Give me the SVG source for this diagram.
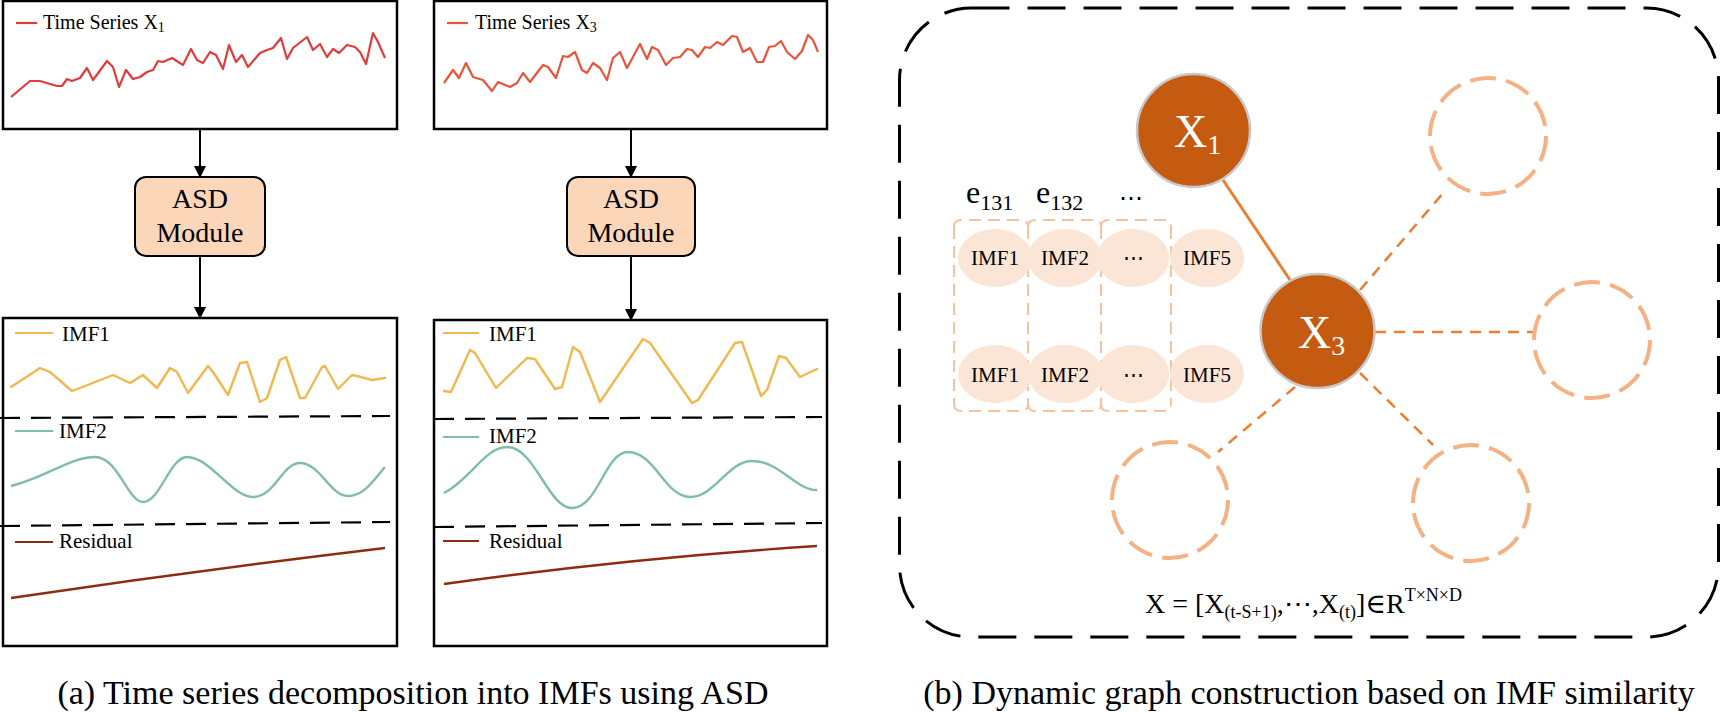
<svg xmlns="http://www.w3.org/2000/svg" width="1721" height="713" viewBox="0 0 1721 713">
<defs>
<marker id="arr" markerUnits="userSpaceOnUse" markerWidth="12" markerHeight="12" refX="11" refY="6" orient="auto">
<path d="M0,0 L12,6 L0,12 z" fill="#000"/>
</marker>
<style>
text{font-family:"Liberation Serif","DejaVu Serif",serif;fill:#000}
.box{fill:#fff;stroke:#000;stroke-width:2.5}
.asd{fill:#fbd6b8;stroke:#000;stroke-width:2}
.sep{stroke:#000;stroke-width:2.2;stroke-dasharray:20 11;fill:none}
.red1{fill:none;stroke:#e03c3c;stroke-width:2.2;stroke-linejoin:round}
.red3{fill:none;stroke:#e8553a;stroke-width:2.2;stroke-linejoin:round}
.imf1{fill:none;stroke:#f1b84f;stroke-width:2.4;stroke-linejoin:round;stroke-linecap:round}
.imf2{fill:none;stroke:#7dbf9e;stroke-width:2.4}
.res{fill:none;stroke:#8c2d12;stroke-width:2.4}
.leg{font-size:21px}
.arrow{stroke:#000;stroke-width:2;fill:none}
.node{fill:#c55a11;stroke:#c8c8c8;stroke-width:2.5}
.ghost{fill:none;stroke:#f4b183;stroke-width:4;stroke-dasharray:26 10.4}
.edge{stroke:#ed7d31;stroke-width:2.5;stroke-dasharray:11 8;fill:none}
.imfe{fill:#fbe5d6}
.grp{fill:none;stroke:#f7c39e;stroke-width:2;stroke-dasharray:12 7}
.nlab{fill:#fff;font-size:46px}
</style>
</defs>
<rect width="1721" height="713" fill="#fff"/>

<g id="series-x1">
<rect class="box" x="3" y="1" width="394" height="128"/>
<line x1="16" y1="23" x2="37" y2="23" stroke="#e03c3c" stroke-width="2.2"/>
<text x="43" y="29" font-size="20">Time Series X<tspan font-size="14" dy="3">1</tspan></text>
<polyline class="red1" points="11,97 30,81 40,81 57,86 62,86 67,79 72,81 80,78 87,68 93,80 107,61 113,67 119,87 126,70 133,79 140,77 147,72 153,70 158,61 163,62 172,58 183,65 191,49 197,60 203,63 210,52 216,55 223,69 229,45 236,62 242,55 248,67 260,53 267,50 273,48 281,38 287,59 293,48 307,37 313,50 320,44 327,57 333,49 339,53 347,45 355,47 360,52 366,64 373,33 378,42 385,58"/>
</g>

<g id="series-x3">
<rect class="box" x="434" y="1" width="393" height="128"/>
<line x1="447" y1="23" x2="468" y2="23" stroke="#e8553a" stroke-width="2.2"/>
<text x="475" y="29" font-size="20">Time Series X<tspan font-size="14" dy="3">3</tspan></text>
<polyline class="red3" points="444,83 453,70 459,78 466,63 473,77 483,80 492,91 498,82 510,87 517,83 523,73 530,82 543,65 548,67 556,78 563,56 568,57 575,52 582,70 587,73 593,63 600,68 607,80 613,58 620,52 627,68 640,44 647,59 652,47 658,50 666,65 673,58 680,57 687,49 692,50 698,57 705,47 710,48 717,42 723,45 732,36 737,37 743,52 750,48 757,62 763,62 769,47 775,46 781,41 787,52 795,59 802,51 808,35 813,40 818,52"/>
</g>

<g id="asd-1">
<rect class="asd" x="135" y="177" width="130" height="79" rx="11"/>
<text x="200" y="208" font-size="28" text-anchor="middle">ASD</text>
<text x="200" y="242" font-size="28" text-anchor="middle">Module</text>
</g>

<g id="asd-3">
<rect class="asd" x="567" y="177" width="128" height="79" rx="11"/>
<text x="631" y="208" font-size="28" text-anchor="middle">ASD</text>
<text x="631" y="242" font-size="28" text-anchor="middle">Module</text>
</g>

<g id="imfs-x1">
<rect class="box" x="3" y="318" width="394" height="328"/>
<line class="sep" x1="0" y1="418" x2="390" y2="416"/>
<line class="sep" x1="0" y1="526" x2="390" y2="522"/>
<line x1="15" y1="333" x2="53" y2="333" stroke="#f1b84f" stroke-width="2.2"/>
<text class="leg" x="62" y="341">IMF1</text>
<polyline class="imf1" points="11,387 40,368 50,372 72,391 80,388 113,375 130,383 143,375 157,388 170,368 177,372 188,393 208,366 213,372 228,395 240,363 247,362 260,402 267,398 280,360 286,357 300,398 305,398 322,367 325,366 338,389 352,375 357,376 372,380 385,378"/>
<line x1="15" y1="431" x2="53" y2="431" stroke="#7dbf9e" stroke-width="2.2"/>
<text class="leg" x="59" y="438">IMF2</text>
<path class="imf2" d="M11,486 C45,478 70,457 95,457 C118,457 128,502 143,502 C160,502 170,457 187,457 C210,457 232,497 253,497 C275,497 282,463 300,463 C320,463 330,496 348,496 C365,496 375,478 385,467"/>
<line x1="15" y1="542" x2="53" y2="542" stroke="#8c2d12" stroke-width="2.2"/>
<text class="leg" x="59" y="548">Residual</text>
<path class="res" d="M11,598 Q200,570 385,548"/>
</g>

<g id="imfs-x3">
<rect class="box" x="434" y="320" width="393" height="326"/>
<line class="sep" x1="434" y1="419" x2="822" y2="417"/>
<line class="sep" x1="434" y1="527" x2="822" y2="523"/>
<line x1="443" y1="333" x2="479" y2="333" stroke="#f1b84f" stroke-width="2.2"/>
<text class="leg" x="489" y="341">IMF1</text>
<polyline class="imf1" points="444,391 451,392 470,350 475,353 496,388 527,358 535,359 555,389 562,387 573,347 580,352 600,402 643,339 650,343 692,403 698,400 735,343 742,342 761,396 767,390 779,356 786,358 800,377 817,369"/>
<line x1="443" y1="437" x2="479" y2="437" stroke="#7dbf9e" stroke-width="2.2"/>
<text class="leg" x="489" y="443">IMF2</text>
<path class="imf2" d="M444,493 C470,480 485,447 507,447 C535,447 548,508 572,508 C598,508 605,452 628,452 C655,452 665,497 690,497 C715,497 728,461 752,461 C780,461 795,490 817,490"/>
<line x1="443" y1="541" x2="479" y2="541" stroke="#8c2d12" stroke-width="2.2"/>
<text class="leg" x="489" y="548">Residual</text>
<path class="res" d="M444,584 Q630,558 817,546"/>
</g>

<g id="connectors">
<line class="arrow" x1="200" y1="129" x2="200" y2="177" marker-end="url(#arr)"/>
<line class="arrow" x1="200" y1="256" x2="200" y2="318" marker-end="url(#arr)"/>
<line class="arrow" x1="631" y1="129" x2="631" y2="177" marker-end="url(#arr)"/>
<line class="arrow" x1="631" y1="256" x2="631" y2="320" marker-end="url(#arr)"/>
<line x1="1223" y1="180" x2="1290" y2="280" stroke="#ed7d31" stroke-width="3"/>
<line class="edge" x1="1360" y1="290" x2="1444" y2="192"/>
<line class="edge" x1="1375" y1="332" x2="1533" y2="332"/>
<line class="edge" x1="1360" y1="373" x2="1433" y2="445"/>
<line class="edge" x1="1295" y1="387" x2="1218" y2="452"/>
</g>

<g id="graph-frame">
<rect x="899.5" y="8" width="819" height="629" rx="72" fill="none" stroke="#000" stroke-width="3" stroke-dasharray="38 18"/>
</g>

<g id="imf-groups">
<path class="grp" d="M954,227 Q954,220 961,220 H1021 Q1028,220 1028,227"/>
<path class="grp" d="M1028,227 Q1028,220 1035,220 H1094 Q1101,220 1101,227"/>
<path class="grp" d="M1101,227 Q1101,220 1108,220 H1164 Q1171,220 1171,227"/>
<path class="grp" d="M954,404 Q954,411 961,411 H1021 Q1028,411 1028,404"/>
<path class="grp" d="M1028,404 Q1028,411 1035,411 H1094 Q1101,411 1101,404"/>
<path class="grp" d="M1101,404 Q1101,411 1108,411 H1164 Q1171,411 1171,404"/>
<line class="grp" x1="954" y1="227" x2="954" y2="404"/>
<line class="grp" x1="1028" y1="227" x2="1028" y2="404"/>
<line class="grp" x1="1101" y1="227" x2="1101" y2="404"/>
<line class="grp" x1="1171" y1="227" x2="1171" y2="404"/>
<ellipse class="imfe" cx="995" cy="258" rx="37" ry="29"/>
<ellipse class="imfe" cx="1065" cy="258" rx="37" ry="29"/>
<ellipse class="imfe" cx="1133" cy="258" rx="36" ry="29"/>
<ellipse class="imfe" cx="1207" cy="258" rx="37" ry="29"/>
<ellipse class="imfe" cx="995" cy="374" rx="37" ry="29"/>
<ellipse class="imfe" cx="1065" cy="374" rx="37" ry="29"/>
<ellipse class="imfe" cx="1133" cy="374" rx="36" ry="29"/>
<ellipse class="imfe" cx="1207" cy="374" rx="37" ry="29"/>
<text class="leg" x="995" y="265" text-anchor="middle">IMF1</text>
<text class="leg" x="1065" y="265" text-anchor="middle">IMF2</text>
<text class="leg" x="1133" y="265" text-anchor="middle">⋯</text>
<text class="leg" x="1207" y="265" text-anchor="middle">IMF5</text>
<text class="leg" x="995" y="382" text-anchor="middle">IMF1</text>
<text class="leg" x="1065" y="382" text-anchor="middle">IMF2</text>
<text class="leg" x="1133" y="382" text-anchor="middle">⋯</text>
<text class="leg" x="1207" y="382" text-anchor="middle">IMF5</text>
<text x="966" y="203" font-size="32">e<tspan font-size="22" dy="7">131</tspan></text>
<text x="1036" y="203" font-size="32">e<tspan font-size="22" dy="7">132</tspan></text>
<text x="1131" y="206" font-size="24" text-anchor="middle">⋯</text>
</g>

<g id="node-x1">
<circle class="node" cx="1193.5" cy="130.5" r="56.5"/>
<text class="nlab" x="1174" y="147">X<tspan font-size="28" dy="7">1</tspan></text>
</g>

<g id="node-x3">
<circle class="node" cx="1317.5" cy="331" r="57"/>
<text class="nlab" x="1298" y="348">X<tspan font-size="28" dy="7">3</tspan></text>
</g>

<g id="ghost-nodes">
<circle class="ghost" cx="1488" cy="136" r="58"/>
<circle class="ghost" cx="1592" cy="340" r="58"/>
<circle class="ghost" cx="1471" cy="503" r="58"/>
<circle class="ghost" cx="1170" cy="500" r="58"/>
</g>

<g id="formula">
<text x="1145" y="613" font-size="28">X = [X<tspan font-size="18" dy="5">(t-S+1)</tspan><tspan dy="-5">,⋯,X</tspan><tspan font-size="18" dy="5">(t)</tspan><tspan dy="-5">]∈R</tspan><tspan font-size="18" dy="-12">T×N×D</tspan></text>
</g>

<g id="captions">
<text x="413" y="704" font-size="34" text-anchor="middle">(a) Time series decomposition into IMFs using ASD</text>
<text x="1309" y="704" font-size="34" text-anchor="middle">(b) Dynamic graph construction based on IMF similarity</text>
</g>
</svg>
